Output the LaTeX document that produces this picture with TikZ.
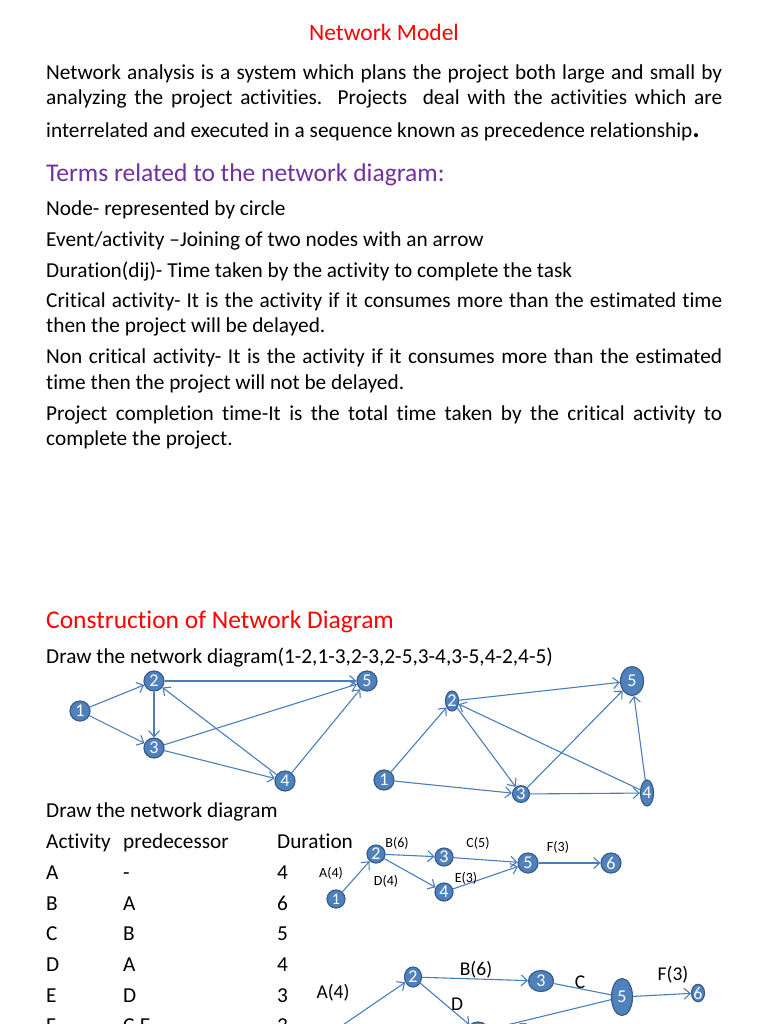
\documentclass[tikz,border=0pt]{standalone}
\usepackage{fontspec}
\setmainfont{Carlito}[RawFeature={-liga;-clig;-dlig}]
\usepackage{tikz}
\usetikzlibrary{arrows.meta,shapes.geometric,positioning}

\definecolor{nodeblue}{HTML}{4F81BD}
\definecolor{nodeedge}{HTML}{385D8A}
\definecolor{lineblue}{HTML}{4A7EBB}
\definecolor{headpurple}{HTML}{7030A0}

\newcommand{\bodyfont}{\fontsize{21.3}{25}\selectfont}
\newcommand{\jline}[1]{\makebox[676pt][s]{#1}}

\tikzset{
  txt/.style={anchor=base west, inner sep=0pt, font=\bodyfont},
  ev/.style={circle, fill=nodeblue, draw=nodeedge, line width=1.2pt, text=white,
    inner sep=0pt, minimum size=20pt, font=\fontsize{18}{18}\selectfont},
  act/.style={draw=lineblue, line width=1.1pt, -{Straight Barb[length=6pt,width=11pt]}},
  arcline/.style={draw=lineblue, line width=1.1pt},
  lbl/.style={inner sep=0pt, font=\fontsize{14}{14}\selectfont},
  biglbl/.style={inner sep=0pt, font=\fontsize{19.5}{19.5}\selectfont},
}

\begin{document}
\begin{tikzpicture}[x=1pt,y=-1pt]
  \clip (0,0) rectangle (768,1024);
  \fill[white] (0,0) rectangle (768,1024);

  % text part
  \node[txt, anchor=base, text=red, font=\fontsize{23.5}{23.5}\selectfont] (title) at (384,41) {Network Model};
  \node[txt] (p1) at (46,80) {\jline{Network analysis is a system which plans the project both large and small by}};
  \node[txt] (p2) at (46,105) {\jline{analyzing the project activities. Projects\ \ deal with the activities which are}};
  \node[txt] (p3) at (46,138) {interrelated and executed in a sequence known as precedence relationship{\fontsize{28}{28}\selectfont\bfseries.}};

  \node[txt, text=headpurple, font=\fontsize{25.5}{25.5}\selectfont] (terms) at (46,182) {Terms related to the network diagram:};
  \node[txt] (t1) at (46,215) {Node- represented by circle};
  \node[txt] (t2) at (46,246) {Event/activity --Joining of two nodes with an arrow};
  \node[txt] (t3) at (46,277) {Duration(dij)- Time taken by the activity to complete the task};
  \node[txt] (t4) at (46,307) {\jline{Critical activity- It is the activity if it consumes more than the estimated time}};
  \node[txt] (t4b) at (46,332) {then the project will be delayed.};
  \node[txt] (t5) at (46,363) {\jline{Non critical activity- It is the activity if it consumes more than the estimated}};
  \node[txt] (t5b) at (46,389) {time then the project will not be delayed.};
  \node[txt] (t6) at (46,420) {\jline{Project completion time-It is the total time taken by the critical activity to}};
  \node[txt] (t6b) at (46,445) {complete the project.};

  \node[txt, text=red, font=\fontsize{25.5}{25.5}\selectfont] (constr) at (46,628) {Construction of Network Diagram};
  \node[txt] (q1) at (46,663) {Draw the network diagram(1-2,1-3,2-3,2-5,3-4,3-5,4-2,4-5)};
  \node[txt] (q2) at (46,817) {Draw the network diagram};

  % table
  \node[txt] (hact) at (46,848) {Activity};
  \node[txt] (hpre) at (123,848) {predecessor};
  \node[txt] (hdur) at (277,848) {Duration};
  \node[txt] (ra1) at (46,879) {A};  \node[txt] (ra2) at (123,879) {-};   \node[txt] (ra3) at (277,879) {4};
  \node[txt] (rb1) at (46,910) {B};  \node[txt] (rb2) at (123,910) {A};   \node[txt] (rb3) at (277,910) {6};
  \node[txt] (rc1) at (46,940) {C};  \node[txt] (rc2) at (123,940) {B};   \node[txt] (rc3) at (277,940) {5};
  \node[txt] (rd1) at (46,971) {D};  \node[txt] (rd2) at (123,971) {A};   \node[txt] (rd3) at (277,971) {4};
  \node[txt] (re1) at (46,1002) {E}; \node[txt] (re2) at (123,1002) {D};  \node[txt] (re3) at (277,1002) {3};
  \node[txt] (rf1) at (46,1032) {F}; \node[txt] (rf2) at (123,1032) {C,E}; \node[txt] (rf3) at (277,1032) {3};

  % first network
  \node[ev] (a1) at (80,711) {1};
  \node[ev] (a2) at (154,681) {2};
  \node[ev] (a3) at (154,748) {3};
  \node[ev] (a4) at (285,781) {4};
  \node[ev] (a5) at (367,681) {5};
  \draw[act] (a1) -- (a2);
  \draw[act] (a1) -- (a3);
  \draw[act] (a2) -- (a3);
  \draw[act] (a2) -- (a5);
  \draw[act] (a3) -- (a5);
  \draw[act] (a3) -- (a4);
  \draw[act] (a4) -- (a2);
  \draw[act] (a4) -- (a5);

  % second network
  \node[ev] (b1) at (384,780) {1};
  \node[ev, ellipse, minimum width=13pt, minimum height=20pt] (b2) at (452,701) {2};
  \node[ev, ellipse, minimum width=17pt, minimum height=9pt] (b3) at (521,794) {3};
  \node[ev, ellipse, minimum width=13pt, minimum height=26pt] (b4) at (647,793) {4};
  \node[ev, ellipse, minimum width=23pt, minimum height=29pt] (b5) at (632,681) {5};
  \draw[act] (b1) -- (b2);
  \draw[act] (b1) -- (b3);
  \draw[act] (b2) -- (b3);
  \draw[act] (b2) -- (b5);
  \draw[act] (b4) -- (b2);
  \draw[act] (b3) -- (b5);
  \draw[act] (b3) -- (b4);
  \draw[act] (b4) -- (b5);

  % third network
  \node[ev, minimum size=18pt, font=\fontsize{16}{16}\selectfont] (c1) at (336,899) {1};
  \node[ev, minimum size=18pt] (c2) at (376,854) {2};
  \node[ev, minimum size=18pt] (c3) at (444,857) {3};
  \node[ev, minimum size=18pt] (c4) at (444,892) {4};
  \node[ev] (c5) at (528,863) {5};
  \node[ev] (c6) at (611,863) {6};
  \draw[act] (c1) -- (c2);
  \draw[act] (c2) -- (c3);
  \draw[act] (c2) -- (c4);
  \draw[act] (c3) -- (c5);
  \draw[act] (c4) -- (c5);
  \draw[act] (c5) -- (c6);
  \node[lbl] (cA) at (331,873) {A(4)};
  \node[lbl] (cB) at (397,843) {B(6)};
  \node[lbl] (cC) at (478,843) {C(5)};
  \node[lbl] (cD) at (386,881) {D(4)};
  \node[lbl] (cE) at (466,878) {E(3)};
  \node[lbl] (cF) at (558,847) {F(3)};

  % fourth network
  \node[ev] (d1) at (318,1042) {1};
  \node[ev, ellipse, minimum width=17pt, minimum height=20pt] (d2) at (413,977) {2};
  \node[ev, ellipse, minimum width=25pt, minimum height=21pt] (d3) at (541,981) {3};
  \node[ev, ellipse, minimum width=22pt, minimum height=20pt] (d4) at (478,1032) {4};
  \node[ev, ellipse, minimum width=21pt, minimum height=37pt] (d5) at (622,997) {5};
  \node[ev, ellipse, minimum width=13pt, minimum height=17pt] (d6) at (698,993) {6};
  \draw[act] (d1) -- (d2);
  \draw[act] (d2) -- (d3);
  \draw[act] (d2) -- (d4);
  \draw[arcline] (d3) -- (d5);
  \draw[arcline] (d4) -- (d5);
  \draw[act] (d5) -- (d6);
  \node[biglbl] (dA) at (333,993) {A(4)};
  \node[biglbl] (dB) at (476,970) {B(6)};
  \node[biglbl] (dC) at (580,982) {C};
  \node[biglbl] (dD) at (457,1004) {D};
  \node[biglbl] (dE) at (523,1030) {E};
  \node[biglbl] (dF) at (673,975) {F(3)};
\end{tikzpicture}
\end{document}
